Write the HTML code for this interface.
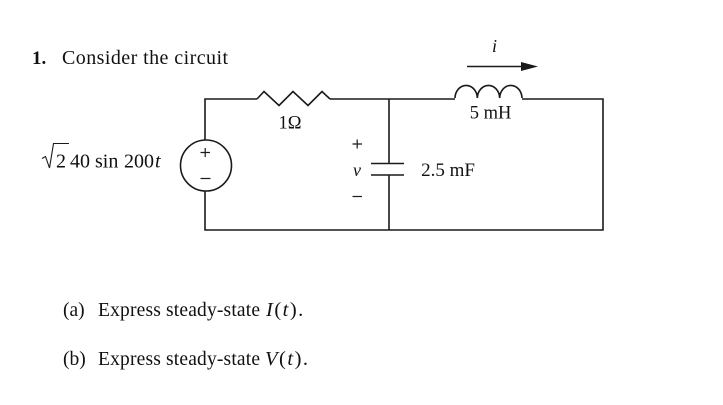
<!DOCTYPE html>
<html>
<head>
<meta charset="utf-8">
<style>
  html,body{margin:0;padding:0;background:#fff;}
  svg{display:block;}
  text{font-family:"Liberation Serif","DejaVu Serif",serif;fill:#111;}
</style>
</head>
<body>
<svg width="723" height="405" viewBox="0 0 723 405" xmlns="http://www.w3.org/2000/svg">
  <rect width="723" height="405" fill="#fff"/>

  <!-- Heading -->
  <text x="32" y="64" font-size="19" font-weight="bold">1.</text>
  <text x="62" y="64" font-size="20" textLength="166" lengthAdjust="spacing">Consider the circuit</text>

  <g stroke="#1a1a1a" stroke-width="1.6" fill="none" stroke-linejoin="miter">
    <path d="M205,140 V99 H257"/>
    <path d="M257,99 L264,91.5 L279,105.5 L293,91.5 L308,105.5 L322,91.5 L330,99"/>
    <path d="M330,99 H455"/>
    <path d="M455,98 a11.17 13 0 0 1 22.33 0 a11.17 13 0 0 1 22.33 0 a11.17 13 0 0 1 22.33 0"/>
    <path d="M522,99 H603 V230 H205 V191"/>
    <path d="M389,99 V163.5"/>
    <path d="M389,175 V230"/>
    <path d="M371,163.5 H404"/>
    <path d="M371,175 H404"/>
    <circle cx="206" cy="165.5" r="25.5"/>
    <path d="M200.5,152.5 H210 M205.2,148 V157" stroke-width="1.2"/>
    <path d="M200.5,178.5 H210.5" stroke-width="1.2"/>
    <path d="M352.5,144 H362 M357.2,139.5 V148.5" stroke-width="1.2"/>
    <path d="M352.5,196.5 H362" stroke-width="1.2"/>
    <path d="M467,66.5 H526"/>
    <path d="M42,158.5 L45.5,156.5 L49.5,168 L53.5,143.5 H69" stroke-width="1.1"/>
  </g>
  <polygon points="521,62 538,66.5 521,71" fill="#1a1a1a"/>

  <!-- labels -->
  <text x="492" y="52" font-size="18" font-style="italic">i</text>
  <text x="290" y="128.5" font-size="18.5" text-anchor="middle">1Ω</text>
  <text x="490.5" y="118.5" font-size="18.5" text-anchor="middle">5 mH</text>
  <text x="448" y="176" font-size="19" text-anchor="middle">2.5 mF</text>
  <text x="353" y="176" font-size="18" font-style="italic">v</text>

  <!-- source label -->
  <text x="56" y="167.5" font-size="20">2</text>
  <text x="70" y="167.5" font-size="20">40</text>
  <text x="95" y="167.5" font-size="20">sin</text>
  <text x="124" y="167.5" font-size="20">200</text>
  <text x="155" y="167.5" font-size="20" font-style="italic">t</text>

  <!-- questions -->
  <text x="63" y="316" font-size="19.5">(a)</text>
  <text x="98" y="316" font-size="19.5" textLength="162" lengthAdjust="spacing">Express steady-state</text>
  <text x="266" y="316" font-size="20.5" letter-spacing="1.5"><tspan font-style="italic">I</tspan>(<tspan font-style="italic">t</tspan>).</text>

  <text x="63" y="365" font-size="19.5">(b)</text>
  <text x="98" y="365" font-size="19.5" textLength="162" lengthAdjust="spacing">Express steady-state</text>
  <text x="265" y="365" font-size="20.5" letter-spacing="1.5"><tspan font-style="italic">V</tspan>(<tspan font-style="italic">t</tspan>).</text>
</svg>
</body>
</html>
